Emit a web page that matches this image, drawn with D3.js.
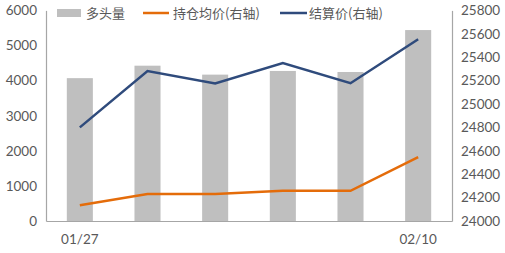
<!DOCTYPE html>
<html>
<head>
<meta charset="utf-8">
<script src="https://cdn.jsdelivr.net/npm/d3@7"></script>
<style>
body { margin: 0; background: #fff; }
text { fill: #595959; }
</style>
</head>
<body>
<div id="D3"></div>
<script>
// categories (only first and last labelled on the axis)
var dates = ["01/27", "01/28", "01/29", "02/03", "02/04", "02/10"];
var tickShown = ["01/27", "02/10"];
// left axis: long volume
var longVol = [4070, 4425, 4170, 4275, 4245, 5440];
// right axis: avg holding price, settlement price
var avgPrice = [24135, 24230, 24230, 24258, 24258, 24546];
var settlePrice = [24800, 25282, 25175, 25350, 25178, 25553];
var leftTicks = [0, 1000, 2000, 3000, 4000, 5000, 6000];
var rightTicks = [24000, 24200, 24400, 24600, 24800, 25000, 25200, 25400, 25600, 25800];

var w = 505, h = 253;
var padL = 46, padR = 452, padT = 10.4, padB = 221;
var numFont = "Lato, 'Noto Sans', sans-serif";
var cjkFont = "'Noto Sans CJK SC', sans-serif";

var svg = d3.select("#D3").append("svg")
	.attr("width", w)
	.attr("height", h);

var x = d3.scaleBand().domain(dates).range([padL, padR]).padding(0);
var yL = d3.scaleLinear().domain([0, 6000]).range([padB, padT]);
var yR = d3.scaleLinear().domain([24000, 25800]).range([padB, padT]);
var barW = x.bandwidth() * 0.385;

// bars
svg.selectAll("rect.bar")
	.data(longVol)
	.enter()
	.append("rect")
	.attr("class", "bar")
	.attr("x", function (d, i) { return x(dates[i]) + x.bandwidth() / 2 - barW / 2; })
	.attr("y", function (d) { return yL(d); })
	.attr("width", barW)
	.attr("height", function (d) { return padB - yL(d); })
	.attr("fill", "#bfbfbf");

// axes
var axL = svg.append("g").attr("transform", "translate(" + padL + ",0)")
	.call(d3.axisLeft(yL).tickValues(leftTicks).tickSize(0).tickPadding(9).tickFormat(d3.format("d")));
var axR = svg.append("g").attr("transform", "translate(" + padR + ",0)")
	.call(d3.axisRight(yR).tickValues(rightTicks).tickSize(0).tickPadding(9).tickFormat(d3.format("d")));
var axB = svg.append("g").attr("transform", "translate(0," + padB + ")")
	.call(d3.axisBottom(x).tickValues(tickShown).tickSize(0).tickPadding(13));
[axL, axR, axB].forEach(function (g) {
	g.select(".domain").attr("stroke", "#a6a6a6").attr("stroke-width", 1.2);
	g.selectAll("text").attr("font-family", numFont).attr("font-size", 13.5).attr("fill", "#595959");
});

// lines
var cx = function (d, i) { return x(dates[i]) + x.bandwidth() / 2; };
svg.append("path")
	.datum(avgPrice)
	.attr("d", d3.line().x(cx).y(function (d) { return yR(d); }))
	.attr("fill", "none")
	.attr("stroke", "#e46c0a")
	.attr("stroke-width", 2.5);
svg.append("path")
	.datum(settlePrice)
	.attr("d", d3.line().x(cx).y(function (d) { return yR(d); }))
	.attr("fill", "none")
	.attr("stroke", "#2f4b7c")
	.attr("stroke-width", 2.5);

// legend
var lg = svg.append("g").attr("font-family", cjkFont).attr("font-size", 13);
lg.append("rect").attr("x", 57).attr("y", 9).attr("width", 24).attr("height", 8).attr("fill", "#bfbfbf");
lg.append("text").attr("x", 86).attr("y", 18).text("多头量");
lg.append("line").attr("x1", 143).attr("x2", 169).attr("y1", 13).attr("y2", 13).attr("stroke", "#e46c0a").attr("stroke-width", 2.5);
lg.append("text").attr("x", 173).attr("y", 18).text("持仓均价(右轴)");
lg.append("line").attr("x1", 280).attr("x2", 307).attr("y1", 13).attr("y2", 13).attr("stroke", "#2f4b7c").attr("stroke-width", 2.5);
lg.append("text").attr("x", 309).attr("y", 18).text("结算价(右轴)");
</script>
</body>
</html>
